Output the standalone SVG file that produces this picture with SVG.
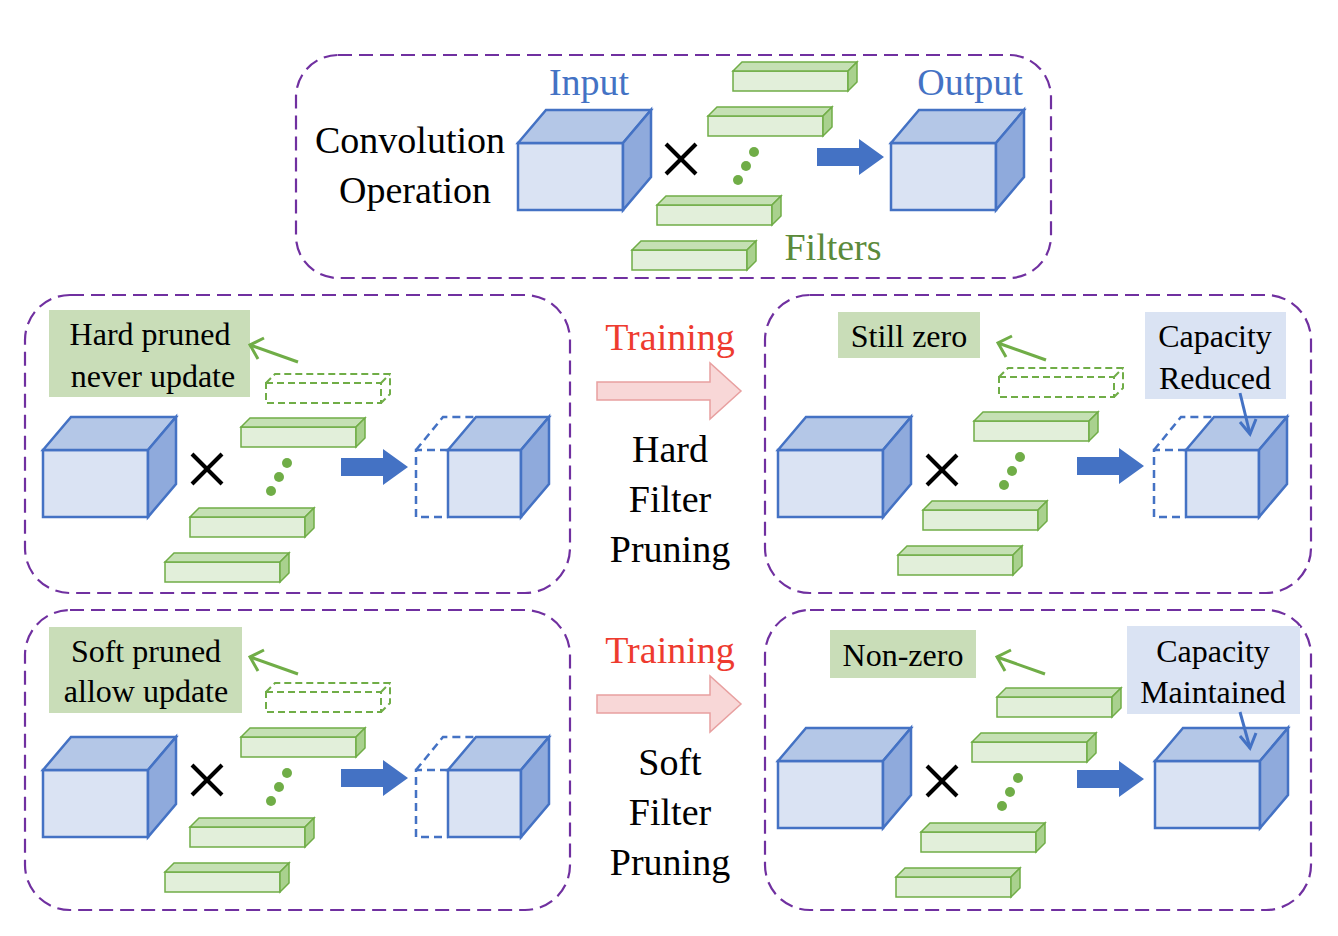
<svg xmlns="http://www.w3.org/2000/svg" width="1338" height="936" viewBox="0 0 1338 936">
<style>
.fr{fill:none;stroke:#7030a0;stroke-width:2.2;stroke-dasharray:14,7}
.t{font-family:"Liberation Serif","Times New Roman","DejaVu Serif",serif;font-size:38px;text-anchor:middle}
.s{font-family:"Liberation Serif","Times New Roman","DejaVu Serif",serif;font-size:32px;text-anchor:middle}
.cf{fill:#dae3f3;stroke:#4472c4;stroke-width:2.5}
.ct{fill:#b4c7e7;stroke:#4472c4;stroke-width:2.5}
.cs{fill:#8faadc;stroke:#4472c4;stroke-width:2.5}
.bf{fill:#e2efda;stroke:#70ad47;stroke-width:1.5}
.bt{fill:#c5e0b4;stroke:#70ad47;stroke-width:1.5}
.bs{fill:#a9d18e;stroke:#70ad47;stroke-width:1.5}
.bd{fill:none;stroke:#70ad47;stroke-width:2;stroke-dasharray:7,4}
.cd{fill:none;stroke:#4472c4;stroke-width:2.5;stroke-dasharray:8,5}
.x{stroke:#000;stroke-width:4}
.ga{stroke:#70ad47;stroke-width:3;fill:none}
.ba{stroke:#4472c4;stroke-width:3;fill:none}
</style>
<defs>
<g id="cube"><rect class="cf" x="0" y="0" width="105" height="67"/><polygon class="ct" points="0,0 28,-33 133,-33 105,0"/><polygon class="cs" points="105,0 133,-33 133,34 105,67"/></g>
<g id="ocube"><rect class="cf" x="0" y="0" width="73" height="67"/><polygon class="ct" points="0,0 28,-33 101,-33 73,0"/><polygon class="cs" points="73,0 101,-33 101,34 73,67"/><polyline class="cd" points="0,0 -32,0 -32,67 0,67"/><polyline class="cd" points="-32,0 -5,-33 28,-33"/></g>
<g id="bar"><rect class="bf" x="0" y="0" width="115" height="20"/><polygon class="bt" points="0,0 9,-9 124,-9 115,0"/><polygon class="bs" points="115,0 124,-9 124,11 115,20"/></g>
<g id="dbar"><rect class="bd" x="0" y="0" width="115" height="20"/><polyline class="bd" points="0,0 9,-9 124,-9 124,11 115,20"/><line class="bd" x1="115" y1="0" x2="124" y2="-9"/></g>
<g id="dots" fill="#70ad47"><circle cx="16" cy="0" r="5"/><circle cx="8" cy="14" r="5"/><circle cx="0" cy="28" r="5"/></g>
<g id="times"><line class="x" x1="-15" y1="-15" x2="15" y2="15"/><line class="x" x1="15" y1="-15" x2="-15" y2="15"/></g>
<polygon id="barrow" fill="#4472c4" points="0,-9 42,-9 42,-18 67,0 42,18 42,9 0,9"/>
<polygon id="parrow" fill="#f8d7d7" stroke="#e8a0a0" stroke-width="1.5" points="0,-9 113,-9 113,-28 144,0 113,28 113,9 0,9"/>
</defs>

<g id="frames">
<rect class="fr" x="296" y="55" width="755" height="223" rx="42"/>
<rect class="fr" x="25" y="295" width="545" height="298" rx="45"/>
<rect class="fr" x="765" y="295" width="546" height="298" rx="45"/>
<rect class="fr" x="25" y="610" width="545" height="300" rx="45"/>
<rect class="fr" x="765" y="610" width="546" height="300" rx="45"/>
</g>

<g id="conv">
<text class="t" x="410" y="153">Convolution</text>
<text class="t" x="415" y="203">Operation</text>
<text class="t" x="589" y="95" fill="#4472c4">Input</text>
<text class="t" x="970" y="95" fill="#4472c4">Output</text>
<text class="t" x="833" y="260" fill="#5b8a3a">Filters</text>
<use href="#cube" x="518" y="143"/>
<use href="#cube" x="891" y="143"/>
<use href="#bar" x="733" y="71"/>
<use href="#bar" x="708" y="116"/>
<use href="#bar" x="657" y="205"/>
<use href="#bar" x="632" y="250"/>
<use href="#dots" x="738" y="152"/>
<use href="#times" x="681" y="159"/>
<use href="#barrow" x="817" y="157"/>
</g>

<g id="hardLeft">
<rect x="49" y="310" width="201" height="87" fill="#c9ddb8"/>
<text class="s" x="150" y="345">Hard pruned</text>
<text class="s" x="153" y="387">never update</text>
<use href="#cube" x="43" y="450"/>
<use href="#ocube" x="448" y="450"/>
<use href="#dbar" x="266" y="383"/>
<use href="#bar" x="241" y="427"/>
<use href="#bar" x="190" y="517"/>
<use href="#bar" x="165" y="562"/>
<use href="#dots" x="271" y="463"/>
<use href="#times" x="207" y="469"/>
<use href="#barrow" x="341" y="467"/>
</g>

<g id="hardMid">
<text class="t" x="670" y="350" fill="#ee3b2f">Training</text>
<use href="#parrow" x="597" y="391"/>
<text class="t" x="670" y="462">Hard</text>
<text class="t" x="670" y="512">Filter</text>
<text class="t" x="670" y="562">Pruning</text>
</g>

<g id="hardRight">
<rect x="838" y="312" width="142" height="46" fill="#c9ddb8"/>
<text class="s" x="909" y="347">Still zero</text>
<rect x="1145" y="312" width="141" height="87" fill="#dae3f3"/>
<text class="s" x="1215" y="347">Capacity</text>
<text class="s" x="1215" y="389">Reduced</text>
<use href="#cube" x="778" y="450"/>
<use href="#ocube" x="1186" y="450"/>
<use href="#dbar" x="999" y="377"/>
<use href="#bar" x="974" y="421"/>
<use href="#bar" x="923" y="510"/>
<use href="#bar" x="898" y="555"/>
<use href="#dots" x="1004" y="457"/>
<use href="#times" x="942" y="470"/>
<use href="#barrow" x="1077" y="466"/>
</g>

<g id="softLeft">
<rect x="49" y="627" width="193" height="86" fill="#c9ddb8"/>
<text class="s" x="146" y="662">Soft pruned</text>
<text class="s" x="146" y="702">allow update</text>
<use href="#cube" x="43" y="770"/>
<use href="#ocube" x="448" y="770"/>
<use href="#dbar" x="266" y="692"/>
<use href="#bar" x="241" y="737"/>
<use href="#bar" x="190" y="827"/>
<use href="#bar" x="165" y="872"/>
<use href="#dots" x="271" y="773"/>
<use href="#times" x="207" y="780"/>
<use href="#barrow" x="341" y="778"/>
</g>

<g id="softMid">
<text class="t" x="670" y="663" fill="#ee3b2f">Training</text>
<use href="#parrow" x="597" y="704"/>
<text class="t" x="670" y="775">Soft</text>
<text class="t" x="670" y="825">Filter</text>
<text class="t" x="670" y="875">Pruning</text>
</g>

<g id="softRight">
<rect x="830" y="630" width="146" height="48" fill="#c9ddb8"/>
<text class="s" x="903" y="666">Non-zero</text>
<rect x="1127" y="626" width="173" height="88" fill="#dae3f3"/>
<text class="s" x="1213" y="662">Capacity</text>
<text class="s" x="1213" y="703">Maintained</text>
<use href="#cube" x="778" y="761"/>
<use href="#cube" x="1155" y="761"/>
<use href="#bar" x="997" y="697"/>
<use href="#bar" x="972" y="742"/>
<use href="#bar" x="921" y="832"/>
<use href="#bar" x="896" y="877"/>
<use href="#dots" x="1002" y="778"/>
<use href="#times" x="942" y="781"/>
<use href="#barrow" x="1077" y="779"/>
</g>

<g id="connectors">
<line class="ga" x1="298" y1="362" x2="250" y2="345"/><polyline class="ga" points="264,338 250,345 258,359"/>
<line class="ga" x1="1046" y1="360" x2="998" y2="343"/><polyline class="ga" points="1012,336 998,343 1006,357"/>
<line class="ga" x1="298" y1="674" x2="250" y2="657"/><polyline class="ga" points="264,650 250,657 258,671"/>
<line class="ga" x1="1045" y1="674" x2="997" y2="657"/><polyline class="ga" points="1011,650 997,657 1005,671"/>
<line class="ba" x1="1240" y1="393" x2="1250" y2="434"/><polyline class="ba" points="1240,422 1250,434 1256,419"/>
<line class="ba" x1="1240" y1="712" x2="1250" y2="748"/><polyline class="ba" points="1240,736 1250,748 1256,733"/>
</g>
</svg>
